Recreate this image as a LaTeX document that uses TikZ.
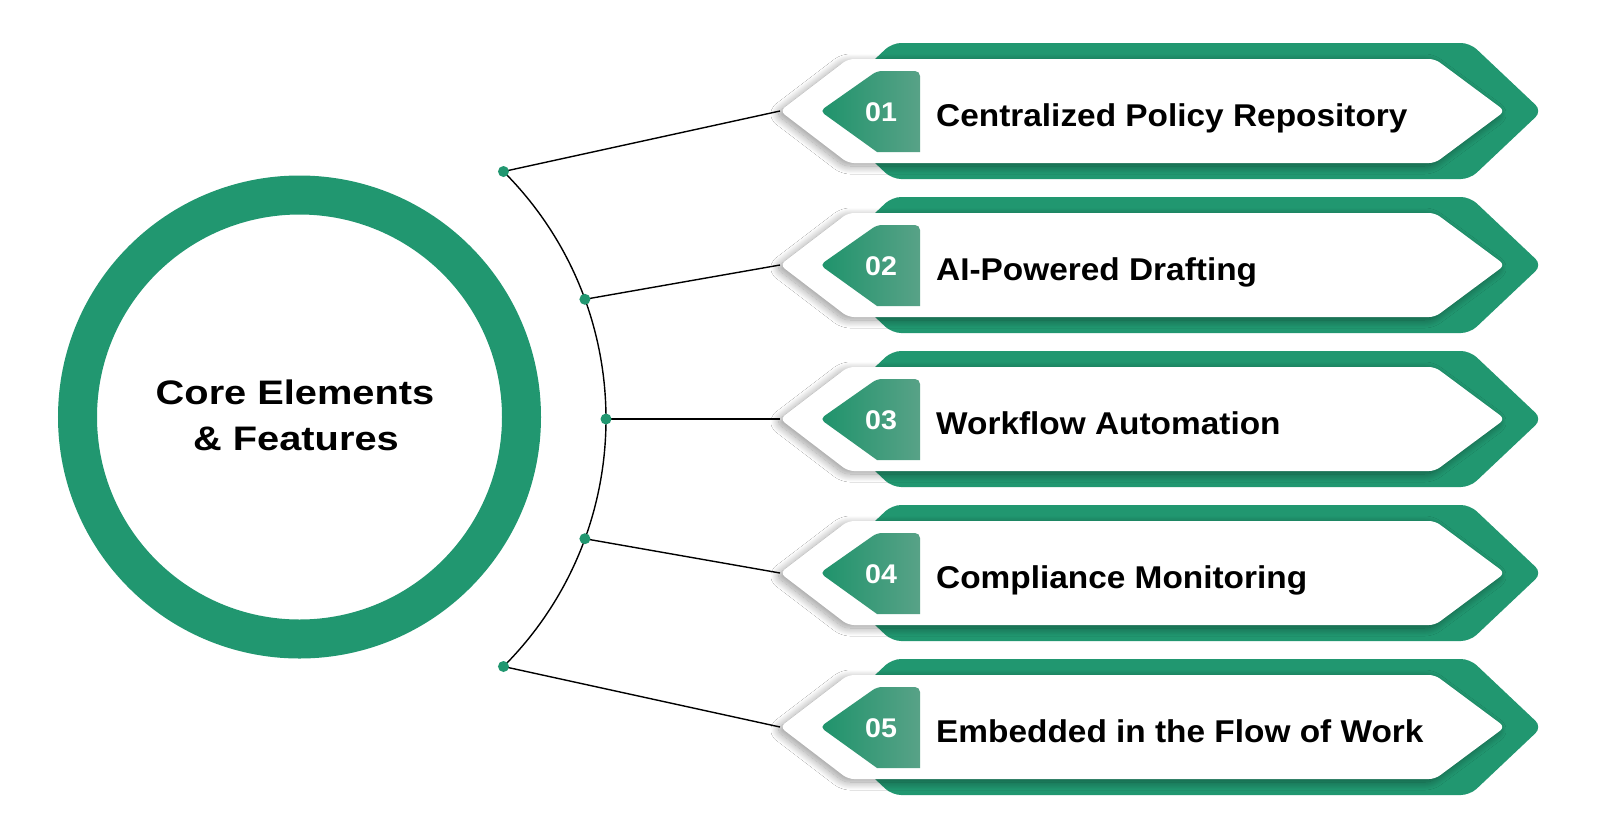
\documentclass[tikz,border=0pt]{standalone}
\usepackage{fontspec}
\setmainfont{Liberation Sans}
\newfontfamily\circfont{Liberation Sans}[FakeStretch=1.17]
\newfontfamily\banfont{Liberation Sans}[FakeStretch=1.06]
\newfontfamily\numfont{Liberation Sans}[FakeStretch=1.06]
\usetikzlibrary{calc,shadows.blur}
\definecolor{brand}{RGB}{33,151,112}
\definecolor{tabL}{RGB}{30,147,107}
\definecolor{tabM}{RGB}{82,176,144}
\definecolor{tabR}{RGB}{88,162,135}
\tikzset{
  conn/.style={draw=black, line width=1.4pt},
  dot/.style={circle, fill=brand, inner sep=0pt, minimum size=11pt},
  backshape/.style={fill=brand, rounded corners=9pt},
  frontshape/.style={fill=white, rounded corners=6pt,
    blur shadow={shadow xshift=-4pt, shadow yshift=-3pt, shadow blur radius=8pt, shadow blur steps=24, shadow opacity=40}},
  tabshape/.style={left color=tabL, middle color=tabM, right color=tabR, rounded corners=5pt},
  numtxt/.style={text=white, font=\numfont\bfseries\fontsize{27}{32}\selectfont, anchor=base, inner sep=0pt},
  bantxt/.style={text=black, font=\banfont\bfseries\fontsize{31.5}{36}\selectfont, anchor=base west, inner sep=0pt},
  coretxt/.style={text=black, font=\circfont\bfseries\fontsize{34}{40}\selectfont, anchor=base, inner sep=0pt}
}
\begin{document}
\begin{tikzpicture}[x=1pt, y=-1pt]
\useasboundingbox (0,0) rectangle (1600,823);
\fill[white] (0,0) rectangle (1600,823);

% central ring
\node (core) [circle, draw=brand, line width=39pt, minimum size=444pt, inner sep=0pt] at (299.5,417) {};
\node[coretxt] (coreA) at (295,404) {Core Elements};
\node[coretxt] (coreB) at (296,450) {\& Features};

% arc centre and dots
\coordinate (ac) at (256,419);
\foreach \i/\a in {1/-45, 2/-20, 3/0, 4/20, 5/45} {
  \coordinate (p\i) at ($(ac)+(\a:350)$);
}
% banner tips
\foreach \i/\c in {1/111, 2/265, 3/419, 4/573, 5/727} {
  \coordinate (t\i) at (780,\c);
}
\draw[conn] (p1) arc[start angle=-45, end angle=45, radius=350];
\foreach \i in {1,...,5} {
  \draw[conn] (p\i) -- (t\i);
}
\foreach \i in {1,...,5} {
  \node[dot] (d\i) at (p\i) {};
}

% banners
\foreach \i/\c/\txt in {1/111/Centralized Policy Repository, 2/265/AI-Powered Drafting, 3/419/Workflow Automation, 4/573/Compliance Monitoring, 5/727/Embedded in the Flow of Work} {
  \begin{scope}[shift={(0,\c)}]
    \path[backshape] (820,0) -- (892,-68) -- (1470,-68) -- (1542,0) -- (1470,68) -- (892,68) -- cycle;
    \path[frontshape] (780,0) -- (848,-52) -- (1435,-52) -- (1505,0) -- (1435,52) -- (848,52) -- cycle;
    \path[tabshape] (820,0) -- (877,-40) -- (920,-40) [sharp corners] -- (920,41) -- (877,41) [rounded corners=5pt] -- cycle;
    \node[numtxt] (n\i) at (881,10.5) {0\i};
    \node[bantxt] (b\i) at (936,15) {\txt};
  \end{scope}
}
\end{tikzpicture}
\end{document}
